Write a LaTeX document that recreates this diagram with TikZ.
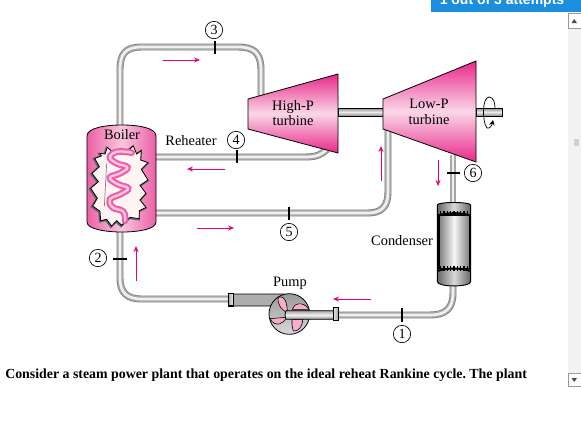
\documentclass[tikz,border=0pt]{standalone}
\usepackage{fontspec}
\setmainfont{Liberation Serif}
\newfontfamily\uifont{Liberation Sans}
\definecolor{mag}{HTML}{E6007E}
\definecolor{tdark}{HTML}{E8288A}
\definecolor{tlight}{HTML}{FBD7E8}
\definecolor{bmid}{HTML}{F9C6DF}
\definecolor{bedge}{HTML}{EC5FA6}
\definecolor{bar}{HTML}{1B8FDD}
\newcommand{\pipeline}[1]{%
  \draw[line width=5.2pt,black!55,line join=round] #1;
  \draw[line width=4.3pt,black!35,line join=round] #1;
  \draw[line width=2pt,black!6,line join=round] #1;}
\tikzset{
  lab/.style={font=\fontsize{10.8}{11.5}\selectfont,align=center,inner sep=0pt},
  num/.style={circle,draw=black,line width=.5pt,fill=white,minimum size=13pt,inner sep=0pt,font=\fontsize{10.5}{10.5}\selectfont},
  flow/.style={draw=mag,line width=.7pt,-{Stealth[length=4.5pt,width=3.8pt]}},
  tick/.style={draw=black,line width=.8pt},
  turb/.style={draw=black,line width=.6pt,top color=tdark,bottom color=tdark,middle color=tlight},
  shaft/.style={draw=black,line width=.6pt,top color=black!45,bottom color=black!45,middle color=black!8},
  btn/.style={draw=black!40,fill=white,line width=.5pt},
}
\usetikzlibrary{arrows.meta}
\begin{document}
\begin{tikzpicture}[x=.75pt,y=-.75pt]
\useasboundingbox (0,0) rectangle (581,436);
\fill[white] (0,0) rectangle (581,436);
% top banner
\begin{scope}
\clip (0,0) rectangle (581,436);
\fill[bar] (431,0) rectangle (581,12);
\node[text=white,font=\uifont\bfseries\fontsize{10.5}{11}\selectfont,anchor=base] (banner) at (502,4.5) {1 out of 3 attempts};
\end{scope}
% scrollbar
\fill[black!5] (568,13) rectangle (581,386);
\draw[btn] (568.5,13.5) rectangle (581,28);
\draw[btn] (568.5,373) rectangle (581,386);
\fill[black!70] (571.5,23) -- (577,23) -- (574.2,19) -- cycle;
\fill[black!70] (571.5,378) -- (577,378) -- (574.2,382) -- cycle;
\fill[black!18] (574,139) rectangle (579,146);
% pipes
\coordinate (bT) at (120,128);
\coordinate (bB) at (120,230);
\pipeline{(bT) -- (120,70) .. controls (120,53) and (126,47) .. (142,47) -- (238,47) .. controls (254,47) and (261,53) .. (261,70) -- (261,104)}
\pipeline{(150,157) -- (305,157) .. controls (316,157) and (322,155) .. (328,148)}
\pipeline{(150,213) -- (368,213) .. controls (382,213) and (388,206) .. (388,192) -- (388,127)}
\pipeline{(453,155) -- (453,205)}
\pipeline{(453,283) -- (453,293) .. controls (453,309) and (445,315) .. (430,315) -- (336,315)}
\pipeline{(bB) -- (120,278) .. controls (120,293) and (127,299) .. (142,299) -- (230,299)}
% shafts
\draw[shaft] (338,108) rectangle (383,116);
\draw[shaft] (476,108) -- (502,108) -- (502,116) -- (476,116) -- cycle;
% turbines
\path[turb] (248,99) -- (338,74) -- (338,153) -- (248,129) -- cycle;
\path[turb] (383,99) -- (476,61) -- (476,162) -- (383,129) -- cycle;
\node[lab] (hp) at (293,113) {High-P\\turbine};
\node[lab] (lp) at (429,112) {Low-P\\turbine};
% rotation arrow
\draw[black,line width=.55pt,-{Stealth[length=4pt,width=4pt]}] (489,97) .. controls (482,97) and (482,122) .. (487,128) .. controls (490,129) and (492,125) .. (493,120);
\draw[black,line width=.55pt] (489,97) .. controls (494,97) and (495,104) .. (495,108);
% boiler
\path[draw=black,line width=.6pt,left color=bedge,right color=bedge,middle color=bmid]
  (87,136) .. controls (87,128) and (105,125) .. (122,125) .. controls (139,125) and (156,128) .. (156,136)
  -- (156,222) .. controls (156,229) and (139,232) .. (122,232) .. controls (105,232) and (87,229) .. (87,222) -- cycle;
\begin{scope}[shift={(80,110)},scale=1/3]
\def\jag{(60,130)--(75,132)--(82,112)--(100,128)--(125,115)--(138,126)--(160,108)--(170,132)--(184,122)--(182,150)--(204,158)--(184,178)--(204,210)--(180,226)--(198,250)--(180,270)--(198,292)--(178,302)--(178,326)--(150,322)--(125,346)--(110,332)--(95,348)--(80,328)--(62,332)--(60,304)--(38,288)--(52,265)--(32,235)--(55,215)--(36,190)--(58,170)--(44,145)--(64,138)--cycle}
\draw[black!60,line width=1.7pt,xshift=-1.5pt,yshift=-1.5pt] \jag;
\draw[black,line width=.6pt,fill=pink!18] \jag;
\draw[black!50,line width=.5pt] (80,160) -- (73,290);
\def\coil{plot[smooth,tension=.75] coordinates {(155,128)(112,125)(90,142)(110,160)(142,172)(120,190)(90,203)(112,222)(144,235)(122,252)(90,268)(98,292)(130,305)(135,332)}}
\draw[bedge,line width=5pt,line cap=round] \coil;
\draw[bmid,line width=1.8pt,line cap=round] \coil;
\end{scope}
\node[lab] (boiler) at (122,134.5) {Boiler};
% condenser
\begin{scope}[shift={(420,150)},scale=1/3]
\path[draw=black,line width=.7pt,left color=black!60,right color=black!60,middle color=black!15] (52,165) .. controls (52,155) and (152,155) .. (152,165) -- (152,395) .. controls (152,412) and (52,412) .. (52,395) -- cycle;
\path[draw=black,line width=.9pt,left color=black!50,right color=black!50,middle color=black!3] (57,195) rectangle (148,355);
\foreach \yy in {190,356}{
  \draw[black,line width=1.5pt] (52,\yy+7) .. controls (80,\yy-3) and (124,\yy-3) .. (152,\yy+7);
  \foreach \xx in {62,72,82,92,102,112,122,132,142}
    \draw[black,line width=.8pt] (\xx,\yy-7) -- (\xx,\yy+7);
}
\end{scope}
% pump
\begin{scope}[shift={(210,270)},scale=1/3]
\path[draw=black,line width=.6pt,fill=black!32] (70,72) -- (222,72) -- (222,100) -- (178,108) -- (70,108) -- cycle;
\path[draw=black,line width=.6pt,top color=black!40,bottom color=black!15] (238,132) circle (61);
\foreach \p in {{(205,82).. controls (225,75) and (232,100) .. (232,128) .. controls (218,122) and (200,105) .. (205,82)},
 {(247,118) .. controls (250,100) and (280,92) .. (297,118) -- cycle},
 {(180,146) -- (228,142) .. controls (225,160) and (195,175) .. (180,146)},
 {(246,148) -- (278,148) .. controls (278,170) and (265,185) .. (250,183) .. controls (246,170) and (245,160) .. (246,148)}}
  \path[draw=black,line width=.45pt,fill=pink!55!mag!55] \p;
\path[shaft,top color=black!35,bottom color=black!45,middle color=black!5] (228,122) -- (372,122) -- (372,148) -- (228,148) .. controls (224,140) and (224,130) .. (228,122) -- cycle;
\path[draw=black,line width=.8pt,left color=black!10,right color=black!35] (370,113) rectangle (385,152);
\path[draw=black,line width=.8pt,left color=black!35,right color=black!5] (55,70) rectangle (70,108);
\end{scope}
% ticks
\draw[tick] (215,41) -- (215,54);
\draw[tick] (237,150) -- (237,163);
\draw[tick] (289,207) -- (289,220);
\draw[tick] (402,308) -- (402,322);
\draw[tick] (113,259) -- (127,259);
\draw[tick] (447,173) -- (460,173);
% numbered state points
\node[num] (n3) at (214,30) {3};
\node[num] (n4) at (236,140) {4};
\node[num] (n5) at (289,232) {5};
\node[num] (n6) at (473,173) {6};
\node[num] (n2) at (98,258) {2};
\node[num] (n1) at (402,334) {1};
% flow arrows
\coordinate (a1s) at (163,60); \coordinate (a1e) at (200,60);
\coordinate (a2s) at (225,169); \coordinate (a2e) at (187,169);
\coordinate (a3s) at (197,228); \coordinate (a3e) at (234,228);
\coordinate (a4s) at (136,281); \coordinate (a4e) at (136,246);
\coordinate (a5s) at (381,181); \coordinate (a5e) at (381,146);
\coordinate (a6s) at (438,160); \coordinate (a6e) at (438,186);
\coordinate (a7s) at (371,299); \coordinate (a7e) at (333,299);
\foreach \i in {1,...,7} \draw[flow] (a\i s) -- (a\i e);
% labels
\node[lab] (pump) at (290,283) {Pump};
\node[lab] (cond) at (402,241) {Condenser};
\node[lab] (reh) at (191,141) {Reheater};
\node[anchor=base west,inner sep=0pt,font=\bfseries\fontsize{10.4}{11}\selectfont] (cap) at (5,378) {\frenchspacing Consider a steam power plant that operates on the ideal reheat Rankine cycle. The plant};
\end{tikzpicture}
\end{document}
